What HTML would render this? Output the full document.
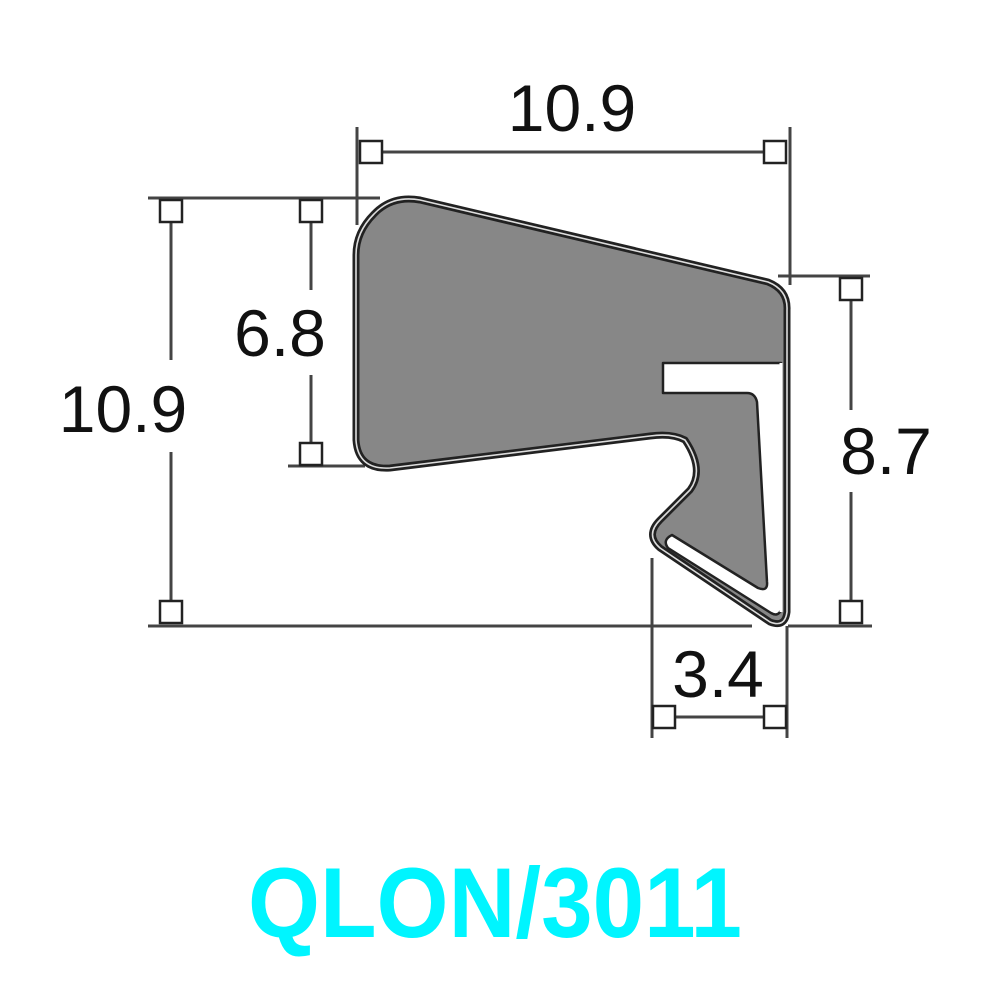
<!DOCTYPE html>
<html><head><meta charset="utf-8"><style>
html,body{margin:0;padding:0;background:#fff;width:1000px;height:1000px;overflow:hidden}
</style></head><body>
<svg width="1000" height="1000" viewBox="0 0 1000 1000" xmlns="http://www.w3.org/2000/svg">
<g stroke="#444" stroke-width="3" fill="none">
  <line x1="382" y1="152" x2="763" y2="152"/>
  <line x1="357" y1="127" x2="357" y2="225"/>
  <line x1="790" y1="127" x2="790" y2="285"/>
  <line x1="148" y1="198" x2="380" y2="198"/>
  <line x1="171" y1="222" x2="171" y2="360"/>
  <line x1="171" y1="452" x2="171" y2="600"/>
  <line x1="311" y1="222" x2="311" y2="290"/>
  <line x1="311" y1="375" x2="311" y2="445"/>
  <line x1="288" y1="466" x2="365" y2="466"/>
  <line x1="148" y1="626" x2="752" y2="626"/>
  <line x1="778" y1="276" x2="870" y2="276"/>
  <line x1="851" y1="300" x2="851" y2="410"/>
  <line x1="851" y1="492" x2="851" y2="600"/>
  <line x1="788" y1="626" x2="872" y2="626"/>
  <line x1="652" y1="558" x2="652" y2="738"/>
  <line x1="787" y1="626" x2="787" y2="738"/>
  <line x1="675" y1="717" x2="763" y2="717"/>
</g>
<g stroke="#222" stroke-width="2.5" fill="#fff">
  <rect x="360" y="141" width="22" height="22"/>
  <rect x="764" y="141" width="22" height="22"/>
  <rect x="160" y="200" width="22" height="22"/>
  <rect x="300" y="200" width="22" height="22"/>
  <rect x="300" y="443" width="22" height="22"/>
  <rect x="160" y="601" width="22" height="22"/>
  <rect x="840" y="278" width="22" height="22"/>
  <rect x="840" y="601" width="22" height="22"/>
  <rect x="653" y="706" width="22" height="22"/>
  <rect x="764" y="706" width="22" height="22"/>
</g>
<path d="M374,214 Q392,195 420,200 L768,282 Q788,290 787,310 L787,612 Q785,628 770,622 L660,548 Q645,535 660,520 L690,490 Q705,470 685,440 Q672,433 650,436 L390,468 Q358,470 356,440 L356,255 Q356,232 374,214 Z"
 fill="#878787" stroke="#222" stroke-width="7" stroke-linejoin="round"/>
<path d="M374,214 Q392,195 420,200 L768,282 Q788,290 787,310 L787,612 Q785,628 770,622 L660,548 Q645,535 660,520 L690,490 Q705,470 685,440 Q672,433 650,436 L390,468 Q358,470 356,440 L356,255 Q356,232 374,214 Z"
 fill="none" stroke="#ddd" stroke-width="1.6" stroke-linejoin="round"/>
<path d="M663,363 L781,363 L781,610 Q778,617 771,613 L668,548 Q662,540 672,535 L758,588 Q768,592 767,582 L757,402 Q755,393 747,393 L663,393 Z"
 fill="#fff" stroke="#222" stroke-width="2.5" stroke-linejoin="round"/>
<line x1="781" y1="363" x2="781" y2="612" stroke="#fff" stroke-width="3"/>
<g font-family="Liberation Sans, sans-serif" fill="#111" font-size="66" text-anchor="middle">
  <text x="572" y="131">10.9</text>
  <text x="123" y="432">10.9</text>
  <text x="280" y="356">6.8</text>
  <text x="886" y="474">8.7</text>
  <text x="718" y="697">3.4</text>
</g>
<text x="248" y="937" font-family="Liberation Sans, sans-serif" font-weight="bold" font-size="99" fill="#00f5ff" textLength="494" lengthAdjust="spacingAndGlyphs">QLON/3011</text>
</svg>
</body></html>
